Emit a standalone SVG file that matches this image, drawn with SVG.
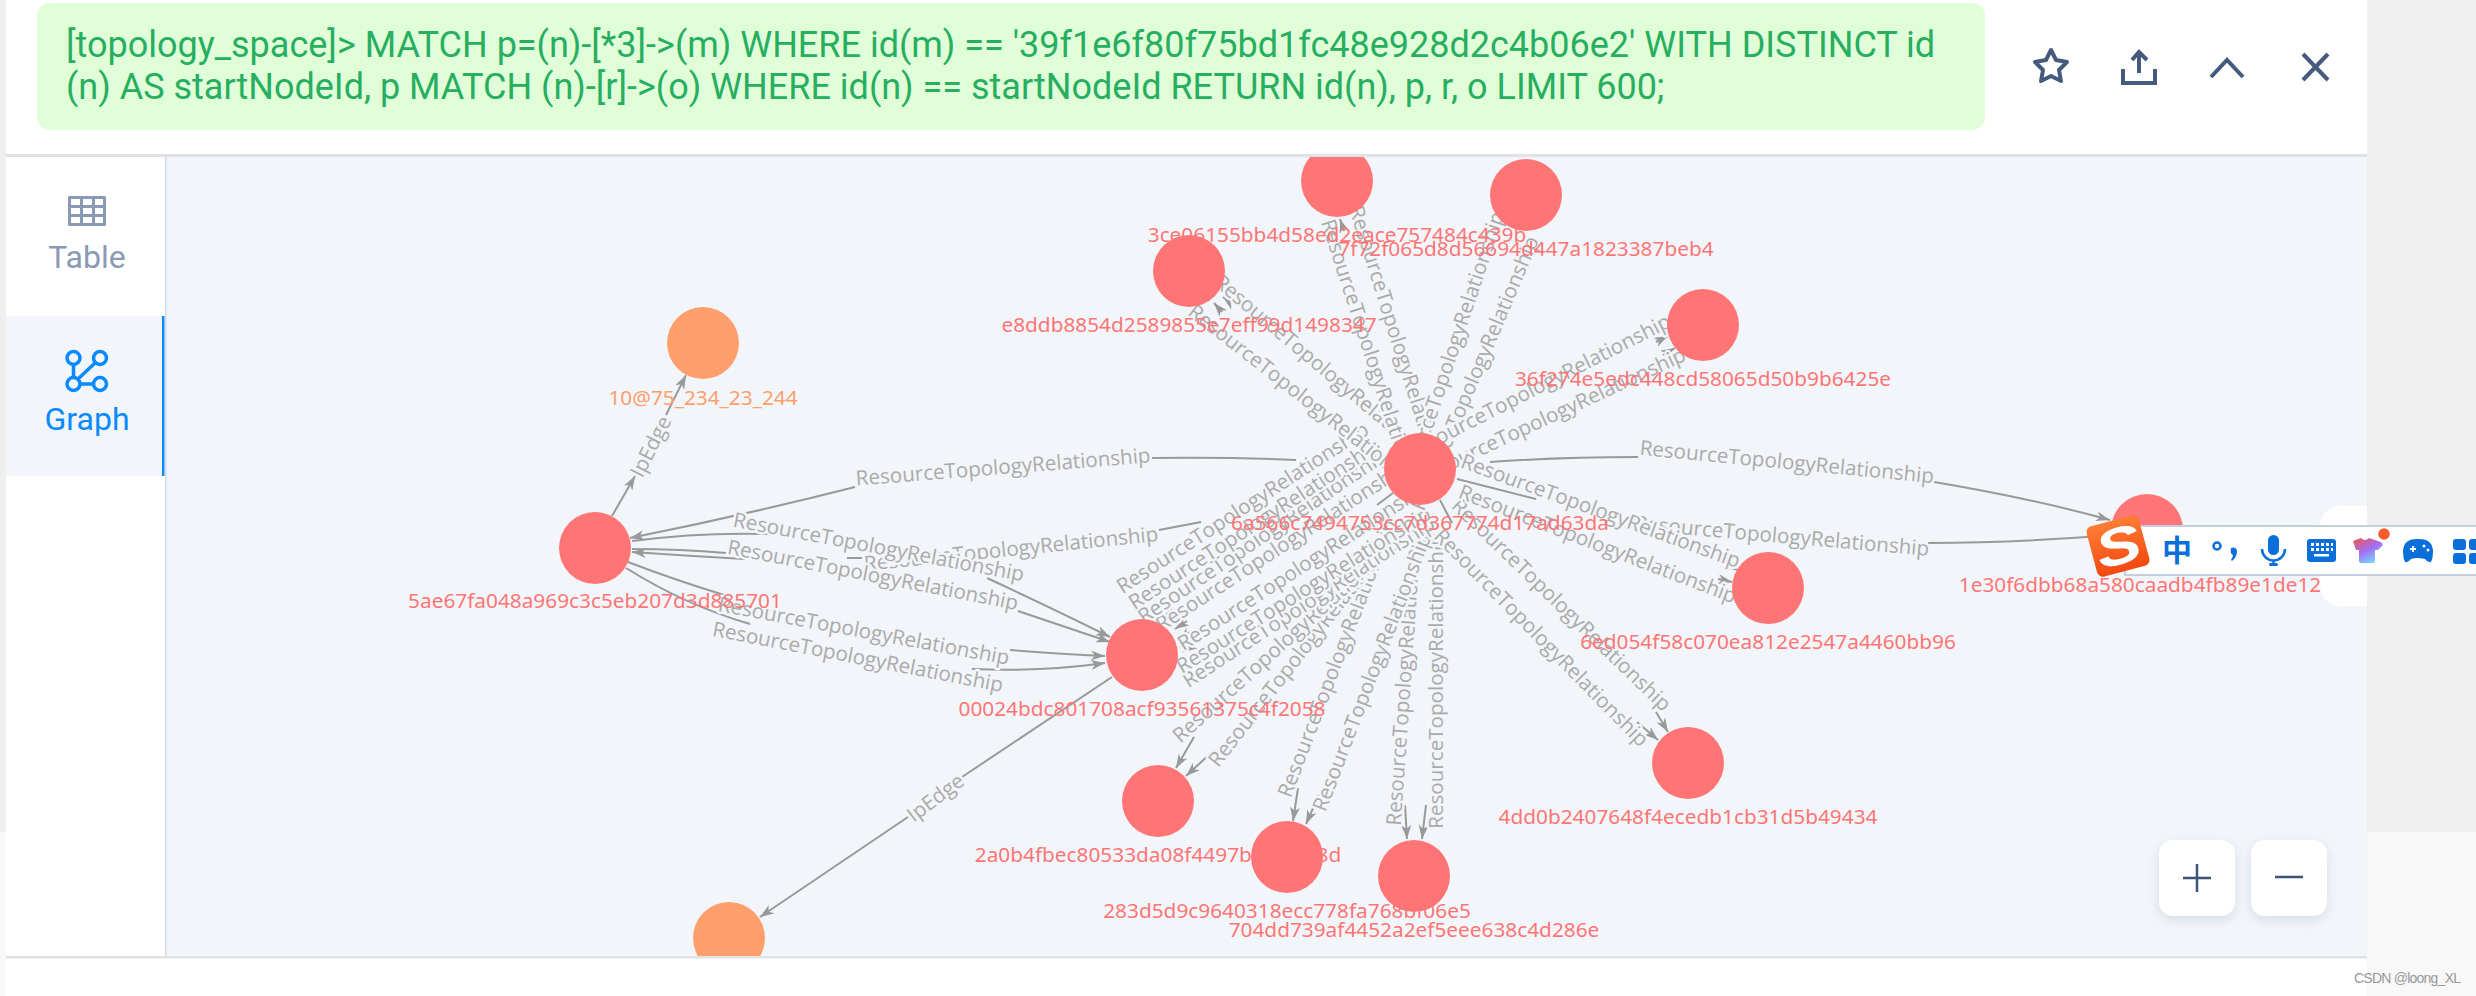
<svg xmlns="http://www.w3.org/2000/svg" width="2476" height="996" viewBox="0 0 2476 996">
<style>
.q{font:36px Roboto,sans-serif;fill:#27ae60}
.tab{font:32px Roboto,sans-serif;text-anchor:middle}
.n{font:20.8px "Noto Sans",sans-serif;text-anchor:middle;fill:#ff7575}
.o{fill:#ff9f6c}
.r{fill:#ff7575}
.e{font:20.6px "Open Sans",sans-serif;text-anchor:middle;dominant-baseline:central;fill:#aaa;stroke:#f2f5f9;stroke-width:5px;paint-order:stroke;stroke-linejoin:round}
.l{fill:none;stroke:#999;stroke-width:2}
.a{marker-end:url(#arr)}
.ic{fill:none;stroke:#455a7c;stroke-width:4}
.b{fill:#0a6fd8}
</style>
<defs>
<marker id="arr" markerUnits="userSpaceOnUse" markerWidth="16" markerHeight="12" refX="14" refY="5" orient="auto"><path d="M0 0L14 5L0 10L4 5Z" fill="#999"/></marker>
<clipPath id="cv"><rect x="166" y="157" width="2201" height="799"/></clipPath>
<filter id="sh" x="-30%" y="-30%" width="160%" height="160%"><feDropShadow dx="0" dy="4" stdDeviation="6" flood-color="#8a97ad" flood-opacity=".25"/></filter>
<linearGradient id="sg" x1="0" y1="0" x2="0" y2="1"><stop offset="0" stop-color="#ff7d35"/><stop offset="1" stop-color="#f2480f"/></linearGradient>
<linearGradient id="sh2" x1="0" y1="0" x2=".6" y2="1"><stop offset="0" stop-color="#f0583e"/><stop offset=".55" stop-color="#a56cf5"/><stop offset="1" stop-color="#76d3ff"/></linearGradient>
</defs>
<rect width="2476" height="996" fill="#fff"/>
<rect x="0" y="0" width="6" height="832" fill="#f0efef"/>
<rect x="0" y="832" width="6" height="164" fill="#f8f8f8"/>
<rect x="2367" y="0" width="109" height="832" fill="#f0efef"/>
<rect x="2367" y="832" width="109" height="164" fill="#f8f8f8"/>

<g id="query">
<rect x="37" y="3" width="1948" height="127" rx="13" fill="#e0ffd8"/>
<text class="q" x="66" y="57">[topology_space]&gt; MATCH p=(n)-[*3]-&gt;(m) WHERE id(m) == '39f1e6f80f75bd1fc48e928d2c4b06e2' WITH DISTINCT id</text>
<text class="q" x="66" y="99">(n) AS startNodeId, p MATCH (n)-[r]-&gt;(o) WHERE id(n) == startNodeId RETURN id(n), p, r, o LIMIT 600;</text>
</g>
<g id="toolbar">
<path class="ic" stroke-linejoin="round" d="M2051 50L2056 60L2067 62L2059 70L2061 81L2051 76L2041 81L2043 70L2035 62L2046 60Z"/>
<path class="ic" d="M2123 69V83H2155V69M2139 73V53M2132 60L2139 52L2147 60"/>
<path class="ic" d="M2211 77L2227 60L2243 77"/>
<path class="ic" d="M2303 54L2328 80M2328 54L2303 80"/>
</g>

<rect x="6" y="154" width="2361" height="3" fill="#e0e2e5"/>
<rect x="166" y="157" width="2201" height="799" fill="#f2f5f9"/>
<rect x="6" y="956" width="2361" height="2.500" fill="#e0e2e5"/>
<rect x="165" y="157" width="1.500" height="799" fill="#d5dbe3"/>

<g id="tab-table">
<rect x="68" y="196" width="38" height="30" rx="1.500" fill="#8a9ab5"/>
<g fill="#fff"><rect x="71" y="199" width="9" height="6"/><rect x="83" y="199" width="9" height="6"/><rect x="95" y="199" width="8" height="6"/><rect x="71" y="208" width="9" height="6"/><rect x="83" y="208" width="9" height="6"/><rect x="95" y="208" width="8" height="6"/><rect x="71" y="217" width="9" height="6"/><rect x="83" y="217" width="9" height="6"/><rect x="95" y="217" width="8" height="6"/></g>
<text class="tab" x="87" y="268" fill="#8a9ab5">Table</text>
</g>
<g id="tab-graph">
<rect x="6" y="316" width="157" height="160" fill="#f2f5f9"/>
<rect x="162" y="316" width="2.500" height="160" fill="#0a8aff"/>
<g fill="none" stroke="#0a8aff" stroke-width="3.500"><circle cx="73.500" cy="358" r="6.500"/><circle cx="100" cy="358" r="6.500"/><circle cx="73.500" cy="384" r="6.500"/><circle cx="100" cy="384" r="6.500"/><path d="M73.500 365V377M78 379L95 363M80 384H93"/></g>
<text class="tab" x="87" y="430" fill="#0a8aff">Graph</text>
</g>

<g clip-path="url(#cv)">
<g id="connectors">
<path class="l a" d="M612 516L635 476"/>
<path class="l a" d="M666 415L686 375"/>
<path class="l" d="M1152 458Q1230 457 1296 460"/>
<path class="l a" d="M855 487Q745 515 630 538"/>
<path class="l" d="M1159 530L1201 522"/>
<path class="l" d="M847 558H862"/>
<path class="l a" d="M745 559Q690 556 632 552"/>
<path class="l" d="M632 541Q700 532 768 534"/>
<path class="l" d="M632 549Q680 549 726 553"/>
<path class="l" d="M628 562Q675 580 724 595"/>
<path class="l" d="M626 568Q685 605 750 624"/>
<path class="l a" d="M987 578Q1056 610 1110 637"/>
<path class="l a" d="M1018 611L1110 642"/>
<path class="l a" d="M1010 650Q1060 654 1105 656"/>
<path class="l a" d="M972 669Q1041 672 1105 663"/>
<path class="l" d="M1112 677L962 777"/>
<path class="l a" d="M908 817L760 917"/>
<path class="l a" d="M1231 303L1223 297"/>
<path class="l a" d="M1222 312L1214 303"/>
<path class="l a" d="M1344 231L1340 219"/>
<path class="l a" d="M1358 230L1355 216"/>
<path class="l a" d="M1656 342L1668 336"/>
<path class="l a" d="M1663 355L1675 348"/>
<path class="l" d="M1490 462Q1560 457 1638 457"/>
<path class="l a" d="M1934 482Q2030 498 2110 520"/>
<path class="l" d="M1457 479L1536 499"/>
<path class="l" d="M1928 543Q2010 543 2100 536"/>
<path class="l a" d="M1722 562L1737 570"/>
<path class="l a" d="M1718 579L1732 582"/>
<path class="l" d="M1440 500L1452 523"/>
<path class="l a" d="M1656 712L1668 732"/>
<path class="l a" d="M1637 722L1658 740"/>
<path class="l a" d="M1405 805L1407 839"/>
<path class="l a" d="M1426 805L1422 839"/>
<path class="l a" d="M1298 788L1293 821"/>
<path class="l a" d="M1319 795L1306 824"/>
<path class="l a" d="M1194 737L1176 768"/>
<path class="l a" d="M1212 752L1186 776"/>
<path class="l a" d="M1175 610L1163 618"/>
<path class="l a" d="M1182 615L1170 623"/>
<path class="l a" d="M1187 621L1175 629"/>
<path class="l a" d="M1190 632L1178 640"/>
<path class="l a" d="M1192 639L1180 647"/>
<path class="l a" d="M1195 644L1183 652"/>
<path class="l" d="M1393 493L1377 505M1387 485L1373 492"/>

<text class="e" transform="translate(1435 681) rotate(-90)">ResourceTopologyRelationship</text>
<text class="e" transform="translate(1403 678) rotate(-86)">ResourceTopologyRelationship</text>
<text class="e" transform="translate(1371 672) rotate(-69)">ResourceTopologyRelationship</text>
<text class="e" transform="translate(1336 658) rotate(-69)">ResourceTopologyRelationship</text>
<text class="e" transform="translate(1303 647) rotate(-52)">ResourceTopologyRelationship</text>
<text class="e" transform="translate(1285 639) rotate(-42)">ResourceTopologyRelationship</text>
<text class="e" transform="translate(1308 601) rotate(-33)">ResourceTopologyRelationship</text>
<text class="e" transform="translate(1303 589) rotate(-32)">ResourceTopologyRelationship</text>
<text class="e" transform="translate(1303 564) rotate(-33)">ResourceTopologyRelationship</text>
<text class="e" transform="translate(1281 545) rotate(-33)">ResourceTopologyRelationship</text>
<text class="e" transform="translate(1262 535) rotate(-34)">ResourceTopologyRelationship</text>
<text class="e" transform="translate(1254 523) rotate(-33)">ResourceTopologyRelationship</text>
<text class="e" transform="translate(1242 507) rotate(-33)">ResourceTopologyRelationship</text>
<text class="e" transform="translate(1308 399) rotate(38)">ResourceTopologyRelationship</text>
<text class="e" transform="translate(1331 373) rotate(40)">ResourceTopologyRelationship</text>
<text class="e" transform="translate(1374 360) rotate(72)">ResourceTopologyRelationship</text>
<text class="e" transform="translate(1401 347) rotate(72.500)">ResourceTopologyRelationship</text>
<text class="e" transform="translate(1450 352) rotate(-71.500)">ResourceTopologyRelationship</text>
<text class="e" transform="translate(1474 373) rotate(-67)">ResourceTopologyRelationship</text>
<text class="e" transform="translate(1537 386) rotate(-27)">ResourceTopologyRelationship</text>
<text class="e" transform="translate(1550 415) rotate(-25)">ResourceTopologyRelationship</text>
<text class="e" transform="translate(1787 461) rotate(5.500)">ResourceTopologyRelationship</text>
<text class="e" transform="translate(1542 637) rotate(45.500)">ResourceTopologyRelationship</text>
<text class="e" transform="translate(1562 604) rotate(44)">ResourceTopologyRelationship</text>
<text class="e" transform="translate(1598 543) rotate(21)">ResourceTopologyRelationship</text>
<text class="e" transform="translate(1782 535) rotate(5)">ResourceTopologyRelationship</text>
<text class="e" transform="translate(1601 510) rotate(20)">ResourceTopologyRelationship</text>
<text class="e" transform="translate(1011 548) rotate(-5.800)">ResourceTopologyRelationship</text>
<text class="e" transform="translate(1003 466) rotate(-4.500)">ResourceTopologyRelationship</text>
<text class="e" transform="translate(879 546) rotate(10.700)">ResourceTopologyRelationship</text>
<text class="e" transform="translate(873 574) rotate(11)">ResourceTopologyRelationship</text>
<text class="e" transform="translate(864 630) rotate(10.500)">ResourceTopologyRelationship</text>
<text class="e" transform="translate(858 656) rotate(11)">ResourceTopologyRelationship</text>
<text class="e" transform="translate(650 446) rotate(-63)">IpEdge</text>
<text class="e" transform="translate(935 797) rotate(-37)">IpEdge</text>
</g>

<g id="node-10"><text class="n" x="703" y="405" style="fill:#ff9f6c">10@75_234_23_244</text><circle class="o" cx="703" cy="343" r="36"/></g>
<g id="node-ip2"><circle class="o" cx="729" cy="938" r="36"/></g>
<g id="node-5ae67"><circle class="r" cx="595" cy="548" r="36"/><text class="n" x="595" y="608">5ae67fa048a969c3c5eb207d3d885701</text></g>
<g id="node-00024"><circle class="r" cx="1142" cy="655" r="36"/><text class="n" x="1142" y="716">00024bdc801708acf93561375c4f2058</text></g>
<g id="node-6a566"><circle class="r" cx="1420" cy="469" r="36"/><text class="n" x="1420" y="530">6a566c7494753cc7d367774d17ad63da</text></g>
<g id="node-3ce06"><circle class="r" cx="1337" cy="181" r="36"/><text class="n" x="1337" y="242">3ce06155bb4d58ed2eace757484c439b</text></g>
<g id="node-7f72f"><circle class="r" cx="1526" cy="195" r="36"/><text class="n" x="1526" y="256">7f72f065d8d56694d447a1823387beb4</text></g>
<g id="node-e8ddb"><circle class="r" cx="1189" cy="271" r="36"/><text class="n" x="1189" y="332">e8ddb8854d2589855e7eff99d1498347</text></g>
<g id="node-36f27"><circle class="r" cx="1703" cy="325" r="36"/><text class="n" x="1703" y="386">36f274e5edc448cd58065d50b9b6425e</text></g>
<g id="node-1e30f"><circle class="r" cx="2147" cy="530" r="36"/></g>
<g id="node-6ed05"><circle class="r" cx="1768" cy="588" r="36"/><text class="n" x="1768" y="649">6ed054f58c070ea812e2547a4460bb96</text></g>
<g id="node-4dd0b"><circle class="r" cx="1688" cy="763" r="36"/><text class="n" x="1688" y="824">4dd0b2407648f4ecedb1cb31d5b49434</text></g>
<g id="node-2a0b4"><circle class="r" cx="1158" cy="801" r="36"/><text class="n" x="1158" y="862">2a0b4fbec80533da08f4497b6f1c038d</text></g>
<g id="node-283d5"><circle class="r" cx="1287" cy="857" r="36"/><text class="n" x="1287" y="918">283d5d9c9640318ecc778fa768bf06e5</text></g>
<g id="node-704dd"><circle class="r" cx="1414" cy="876" r="36"/><text class="n" x="1414" y="937">704dd739af4452a2ef5eee638c4d286e</text></g>
</g>

<g id="zoom-controls">
<rect x="2159" y="840" width="76" height="76" rx="14" fill="#fff" filter="url(#sh)"/>
<rect x="2251" y="840" width="76" height="76" rx="14" fill="#fff" filter="url(#sh)"/>
<path d="M2197 864V892M2183 878H2211M2275 877H2303" fill="none" stroke="#3f5378" stroke-width="2.500"/>
</g>

<g id="ime">
<path d="M2367 506H2341A22 22 0 0 0 2319 528V584A22 22 0 0 0 2341 606H2367Z" fill="#fff"/>
<text class="n" x="2140" y="592">1e30f6dbb68a580caadb4fb89e1de12</text>
<rect x="2125" y="526" width="353" height="49" fill="#fff" stroke="#c3cfdf" stroke-width="2"/>
<g transform="rotate(-15 2118 546)">
<rect x="2091" y="520" width="54" height="52" rx="6" fill="url(#sg)"/>
<text x="2118" y="564" font-family="Liberation Sans,sans-serif" font-weight="700" font-style="italic" font-size="52" fill="#fff" text-anchor="middle" transform="translate(2118 0) scale(1.300 1) translate(-2118 0)">S</text>
</g>
<text x="2177" y="561" font-family="Noto Sans CJK SC,sans-serif" font-weight="700" font-size="30" text-anchor="middle" class="b">中</text>
<circle cx="2217" cy="546" r="3.500" fill="none" stroke="#0a6fd8" stroke-width="2.500"/>
<path class="b" d="M2231 548a4 4 0 0 1 6 3q0 6-5 10l-1-1q2-3 2-5q-3-1-2-7z"/>
<rect class="b" x="2268" y="535" width="11" height="20" rx="5.500"/>
<path d="M2262 549a11.500 11.500 0 0 0 23 0M2273.500 561v3" fill="none" stroke="#0a6fd8" stroke-width="2.500"/>
<rect class="b" x="2269" y="563" width="9" height="3" rx="1.500"/>
<rect class="b" x="2307" y="539" width="29" height="23" rx="3"/>
<path d="M2311 543h3v3h-3zM2316 543h3v3h-3zM2321 543h3v3h-3zM2326 543h3v3h-3zM2331 543h2v3h-2zM2311 548h3v3h-3zM2316 548h3v3h-3zM2321 548h3v3h-3zM2326 548h3v3h-3zM2331 548h2v3h-2zM2314 554h15v2.500h-15z" fill="#fff"/>
<path d="M2353 541l8-3q4 4 8 0l9 3q4 1 5 4l-5 5h-3v11q0 2-3 2h-10q-3 0-3-2v-11h-3z" fill="url(#sh2)"/>
<circle cx="2384" cy="534" r="6.500" fill="#fa5a2c" stroke="#fff" stroke-width="1.500"/>
<path class="b" d="M2403 552q0-13 14-13h2q14 0 14 13q0 6-2 10q-3 1-6-3q-8-2-14 0q-3 4-6 3q-2-4-2-10z"/>
<path d="M2410 549h6M2413 546v6" stroke="#fff" stroke-width="1.800"/>
<circle cx="2424" cy="546" r="1.500" fill="#fff"/><circle cx="2428" cy="550" r="1.500" fill="#fff"/>
<rect class="b" x="2453" y="539" width="13" height="11" rx="3"/><rect class="b" x="2469" y="539" width="13" height="11" rx="3"/>
<rect class="b" x="2453" y="553" width="13" height="11" rx="3"/><rect class="b" x="2469" y="553" width="13" height="11" rx="3"/>
</g>
<text x="2354" y="983" font-family="Liberation Sans,sans-serif" font-size="14" fill="#999" textLength="107">CSDN @loong_XL</text>
</svg>
